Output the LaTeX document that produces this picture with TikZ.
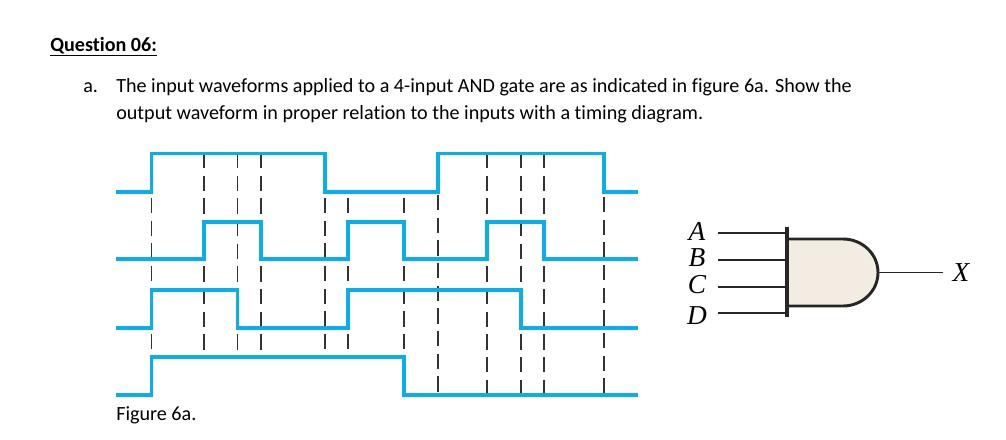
\documentclass[tikz,border=0pt]{standalone}
\usepackage{fontspec}
\setmainfont[Ligatures=NoCommon]{Carlito}
\newfontfamily\gatefont{Liberation Serif}
\definecolor{waveblue}{HTML}{0AAEEA}
\definecolor{gatefill}{HTML}{F3ECE3}

\begin{document}
\begin{tikzpicture}[x=0.75pt,y=-0.75pt,
    wave/.style={draw=waveblue,line width=2.6pt,line join=miter},
    guide/.style={draw=black!80,line width=1.4pt,dash pattern=on 11.5pt off 5.5pt},
    wire/.style={draw=black!85,line width=1.2pt},
    txt/.style={anchor=base west,inner sep=0pt,font=\fontsize{15.1}{18}\selectfont},
    sig/.style={inner sep=0pt,font=\gatefont\itshape\fontsize{20.5}{20.5}\selectfont}]
    \useasboundingbox (0, 0) rectangle (1006, 439);

    \node[txt] (title) at (50, 51) {\underline{\textbf{Question 06:}}};
    \node[txt] (item) at (83, 92) {a.};
    \node[txt] (line1) at (116, 92) {The input waveforms applied to a 4-input AND gate are as indicated in figure 6a. Show the};
    \node[txt] (line2) at (116, 119) {output waveform in proper relation to the inputs with a timing diagram.};
    \node[txt] (caption) at (116, 420) {Figure 6a.};

    % dashed guides: x / top / bottom
    \foreach \x/\ytop/\ybot in {151.5/198/350, 204/153/354, 237.5/153/354, 261/153/354, 325/198/351, 348/198/351,
        404/198/350, 438/195/395, 487/153/395, 521/153/395, 544/153/395, 604/197/395}
        \draw[guide] (\x, \ytop) -- (\x, \ybot);

    % waveforms
    \draw[wave] (116, 192) -- (151.5, 192) |- (325, 153.5) |- (438, 192) |- (604, 153.5) |- (638, 192);
    \draw[wave] (116, 259) -- (204, 259) |- (261, 222) |- (348, 259) |- (404, 222) |- (487, 259) |- (544, 222) |- (638, 259);
    \draw[wave] (116, 328) -- (151.5, 328) |- (237.5, 290) |- (348, 328) |- (521, 290) |- (638, 328);
    \draw[wave] (116, 395) -- (151.5, 395) |- (404, 357) |- (638, 395);

    % gate
    \draw[draw=black!85, fill=gatefill, line width=2.2pt]
    (787, 239) -- (843, 239) arc[start angle=-90, end angle=90, x radius=35, y radius=33.5] -- (787, 306);
    \coordinate (bartop) at (787, 227);
    \coordinate (barbot) at (787, 317);
    \coordinate (gateout) at (878, 272.5);
    \draw[wire, line width=2.8pt] (bartop) -- (barbot);

    \node[sig] (lbla) at (697, 231) {A};
    \node[sig] (lblb) at (697, 258) {B};
    \node[sig] (lblc) at (697, 285) {C};
    \node[sig] (lbld) at (697, 316) {D};
    \node[sig] (lblx) at (961, 273) {X};

    \coordinate (ina) at (718, 233);
    \coordinate (inb) at (718, 260);
    \coordinate (inc) at (718, 287);
    \coordinate (ind) at (718, 313);
    \coordinate (outx) at (943, 272.5);
    \draw[wire]
    (ina) -- (ina -| bartop)
    (inb) -- (inb -| bartop)
    (inc) -- (inc -| bartop)
    (ind) -- (ind -| bartop)
    (gateout) -- (outx);
\end{tikzpicture}
\end{document}
